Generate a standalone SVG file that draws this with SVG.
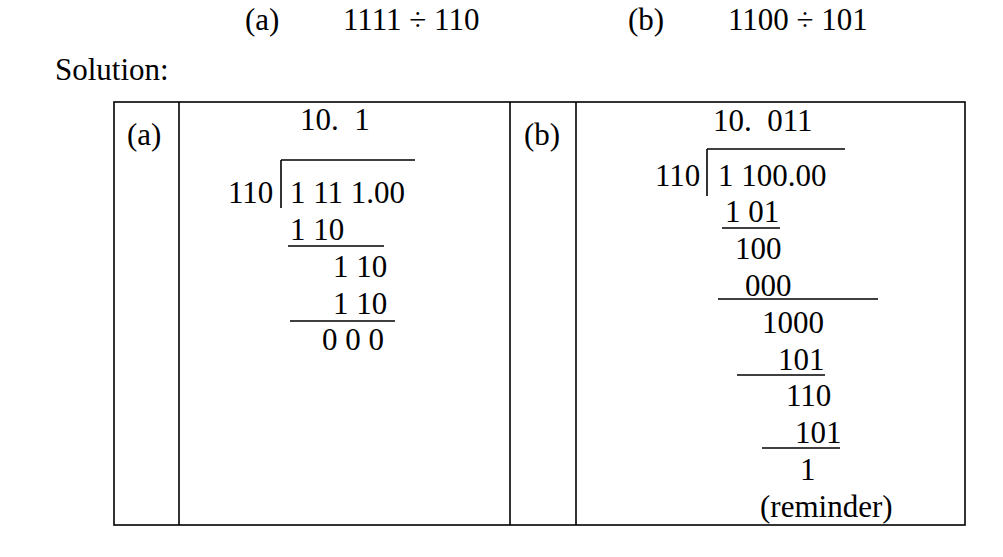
<svg xmlns="http://www.w3.org/2000/svg" width="1003" height="557" viewBox="0 0 1003 557">
<style>
text{font-family:"Liberation Serif","Times New Roman",serif;font-size:31px;fill:#000}
line,.box{stroke:#000;stroke-width:1.6;fill:none}
</style>
<rect width="1003" height="557" fill="#fff"/>
<text x="245" y="30">(a)</text>
<text x="343" y="30">1111 ÷ 110</text>
<text x="628" y="30">(b)</text>
<text x="728" y="30">1100 ÷ 101</text>
<text x="55" y="80">Solution:</text>
<rect class="box" x="114" y="102" width="851" height="423"/>
<line x1="179" y1="102" x2="179" y2="525"/>
<line x1="510" y1="102" x2="510" y2="525"/>
<line x1="576" y1="102" x2="576" y2="525"/>
<g id="a">
<text x="127" y="145">(a)</text>
<text x="300" y="130" xml:space="preserve">10.  1</text>
<line x1="281" y1="160" x2="415" y2="160"/>
<line x1="281" y1="160" x2="281" y2="208"/>
<text x="228" y="203">110</text>
<text x="290" y="203">1 11 1.00</text>
<text x="290" y="240">1 10</text>
<line x1="288" y1="246" x2="384" y2="246"/>
<text x="333" y="277">1 10</text>
<text x="333" y="314">1 10</text>
<line x1="290" y1="321" x2="395" y2="321"/>
<text x="322" y="350">0 0 0</text>
</g>
<g id="b">
<text x="524" y="145">(b)</text>
<text x="713" y="131" xml:space="preserve">10.  011</text>
<line x1="707" y1="149" x2="845" y2="149"/>
<line x1="707" y1="149" x2="707" y2="196"/>
<text x="655" y="186">110</text>
<text x="718" y="186">1 100.00</text>
<text x="725" y="222">1 01</text>
<line x1="722" y1="228" x2="780" y2="228"/>
<text x="735" y="259">100</text>
<text x="745" y="296">000</text>
<line x1="718" y1="299" x2="878" y2="299"/>
<text x="762" y="333">1000</text>
<text x="778" y="370">101</text>
<line x1="737" y1="375" x2="825" y2="375"/>
<text x="786" y="406">110</text>
<text x="795" y="443">101</text>
<line x1="762" y1="448" x2="840" y2="448"/>
<text x="800" y="480">1</text>
<text x="760" y="517">(reminder)</text>
</g>
</svg>
